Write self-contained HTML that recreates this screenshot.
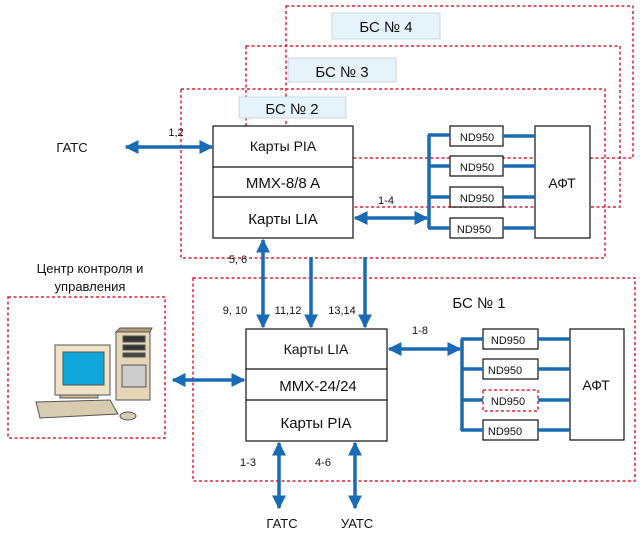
<!DOCTYPE html>
<html><head><meta charset="utf-8"><style>
body{margin:0;background:#fff}
svg{display:block}
text{font-family:"Liberation Sans",Arial,sans-serif;fill:#111}
</style></head><body>
<svg width="640" height="550" viewBox="0 0 640 550" xmlns="http://www.w3.org/2000/svg">
<defs>
<marker id="ah" viewBox="0 0 10 10" refX="9" refY="5" markerWidth="4" markerHeight="4" orient="auto-start-reverse" markerUnits="strokeWidth"><path d="M0,0L10,5L0,10z" fill="#1a6bb5"/></marker>
</defs>
<g fill="none" stroke="#e0203a" stroke-width="1.5" stroke-dasharray="3,2.5">
<rect x="286" y="6" width="347" height="152"/>
<rect x="246" y="46" width="374" height="161"/>
<rect x="181" y="89" width="424" height="169"/>
<rect x="193" y="278" width="442" height="203"/>
<rect x="8" y="297" width="157" height="141"/>
<rect x="483" y="390" width="55" height="21"/>
</g>
<!-- BS labels -->
<g fill="#e6f3fb" stroke="#c8d8e0">
<rect x="332" y="13" width="108" height="26"/>
<rect x="288" y="58" width="108" height="24"/>
<rect x="239" y="97" width="107" height="21"/>
</g>
<g font-size="15" text-anchor="middle">
<text x="386" y="32">БС № 4</text>
<text x="342" y="77">БС № 3</text>
<text x="292" y="114">БС № 2</text>
<text x="479" y="308">БС № 1</text>
</g>
<!-- Top block -->
<g fill="#fff" stroke="#111" stroke-width="1.2">
<rect x="213" y="126" width="140" height="112"/>
<line x1="213" y1="167" x2="353" y2="167"/><line x1="213" y1="197" x2="353" y2="197"/>
<rect x="450" y="126" width="53" height="20"/><rect x="450" y="156" width="53" height="20"/>
<rect x="450" y="187" width="53" height="20"/><rect x="450" y="218" width="53" height="20"/>
<rect x="535" y="126" width="55" height="112"/>
<rect x="246" y="329" width="141" height="112"/>
<line x1="246" y1="369" x2="387" y2="369"/><line x1="246" y1="400" x2="387" y2="400"/>
<rect x="483" y="329" width="55" height="20"/><rect x="483" y="359" width="55" height="20"/>
<rect x="483" y="420" width="55" height="20"/>
<rect x="570" y="329" width="54" height="111"/>
</g>
<g font-size="14" text-anchor="middle">
<text x="283" y="151">Карты PIA</text>
<text x="283" y="188" font-size="15">MMX-8/8 A</text>
<text x="283" y="224" font-size="15">Карты LIA</text>
<text x="316" y="354">Карты LIA</text>
<text x="318" y="391" font-size="15">MMX-24/24</text>
<text x="316" y="428" font-size="15">Карты PIA</text>
<text x="562" y="188" font-size="14">АФТ</text>
<text x="596" y="390" font-size="14">АФТ</text>
</g>
<g font-size="11" text-anchor="middle">
<text x="477" y="141">ND950</text><text x="477" y="171">ND950</text>
<text x="477" y="202">ND950</text><text x="474" y="233">ND950</text>
<text x="508" y="344">ND950</text><text x="505" y="374">ND950</text>
<text x="508" y="405">ND950</text><text x="505" y="435">ND950</text>
</g>
<g font-size="11" text-anchor="middle">
<text x="176" y="136">1,2</text>
<text x="386" y="204">1-4</text>
<text x="238" y="263">5, 6</text>
<text x="235" y="314">9, 10</text>
<text x="288" y="314">11,12</text>
<text x="342" y="314">13,14</text>
<text x="420" y="334">1-8</text>
<text x="248" y="466">1-3</text>
<text x="323" y="466">4-6</text>
</g>
<g font-size="13" text-anchor="middle">
<text x="72" y="152">ГАТС</text>
<text x="282" y="528">ГАТС</text>
<text x="357" y="528">УАТС</text>
<text x="90" y="273">Центр контроля и</text>
<text x="90" y="291">управления</text>
</g>
<!-- blue connectors -->
<g stroke="#1a6bb5" stroke-width="3.5" fill="none">
<line x1="126" y1="147" x2="212" y2="147" marker-start="url(#ah)" marker-end="url(#ah)"/>
<line x1="355" y1="218" x2="427" y2="218" marker-start="url(#ah)" marker-end="url(#ah)"/>
<path d="M429,135V228M428,135H450M428,166H450M428,197H450M428,228H450"/>
<path d="M503,136H535M503,166H535M503,197H535M503,228H535"/>
<line x1="263" y1="240" x2="263" y2="327" marker-start="url(#ah)" marker-end="url(#ah)"/>
<line x1="311" y1="257" x2="311" y2="327" marker-end="url(#ah)"/>
<line x1="365" y1="257" x2="365" y2="327" marker-end="url(#ah)"/>
<line x1="389" y1="349" x2="460" y2="349" marker-start="url(#ah)" marker-end="url(#ah)"/>
<path d="M462,339V431M461,339H483M461,369H483M461,400H483M461,430H483"/>
<path d="M538,339H570M538,369H570M538,400H570M538,430H570"/>
<line x1="173" y1="380" x2="244" y2="380" marker-start="url(#ah)" marker-end="url(#ah)"/>
<line x1="279" y1="443" x2="279" y2="508" marker-start="url(#ah)" marker-end="url(#ah)"/>
<line x1="355" y1="443" x2="355" y2="508" marker-start="url(#ah)" marker-end="url(#ah)"/>
</g>
<!-- computer -->
<g stroke="#555" stroke-width="1">
<polygon points="116,332 120,328 152,328 150,332" fill="#b09a78"/>
<rect x="116" y="332" width="34" height="68" fill="#e6d6b8"/>
<rect x="123" y="336" width="22" height="6" fill="#333"/>
<rect x="123" y="345" width="22" height="5" fill="#333"/>
<rect x="123" y="353" width="22" height="4" fill="#444"/>
<rect x="122" y="365" width="24" height="22" fill="#ccc"/>
<rect x="60" y="390" width="38" height="8" fill="#c8b898"/>
<rect x="55" y="345" width="55" height="50" fill="#efe2c6"/>
<rect x="63" y="352" width="41" height="33" fill="#10a8dc"/>
<polygon points="36,402 110,400 118,414 40,418" fill="#d8ccb0"/>
<ellipse cx="128" cy="416" rx="8" ry="4" fill="#d8ccb0"/>
</g>
</svg>
</body></html>
